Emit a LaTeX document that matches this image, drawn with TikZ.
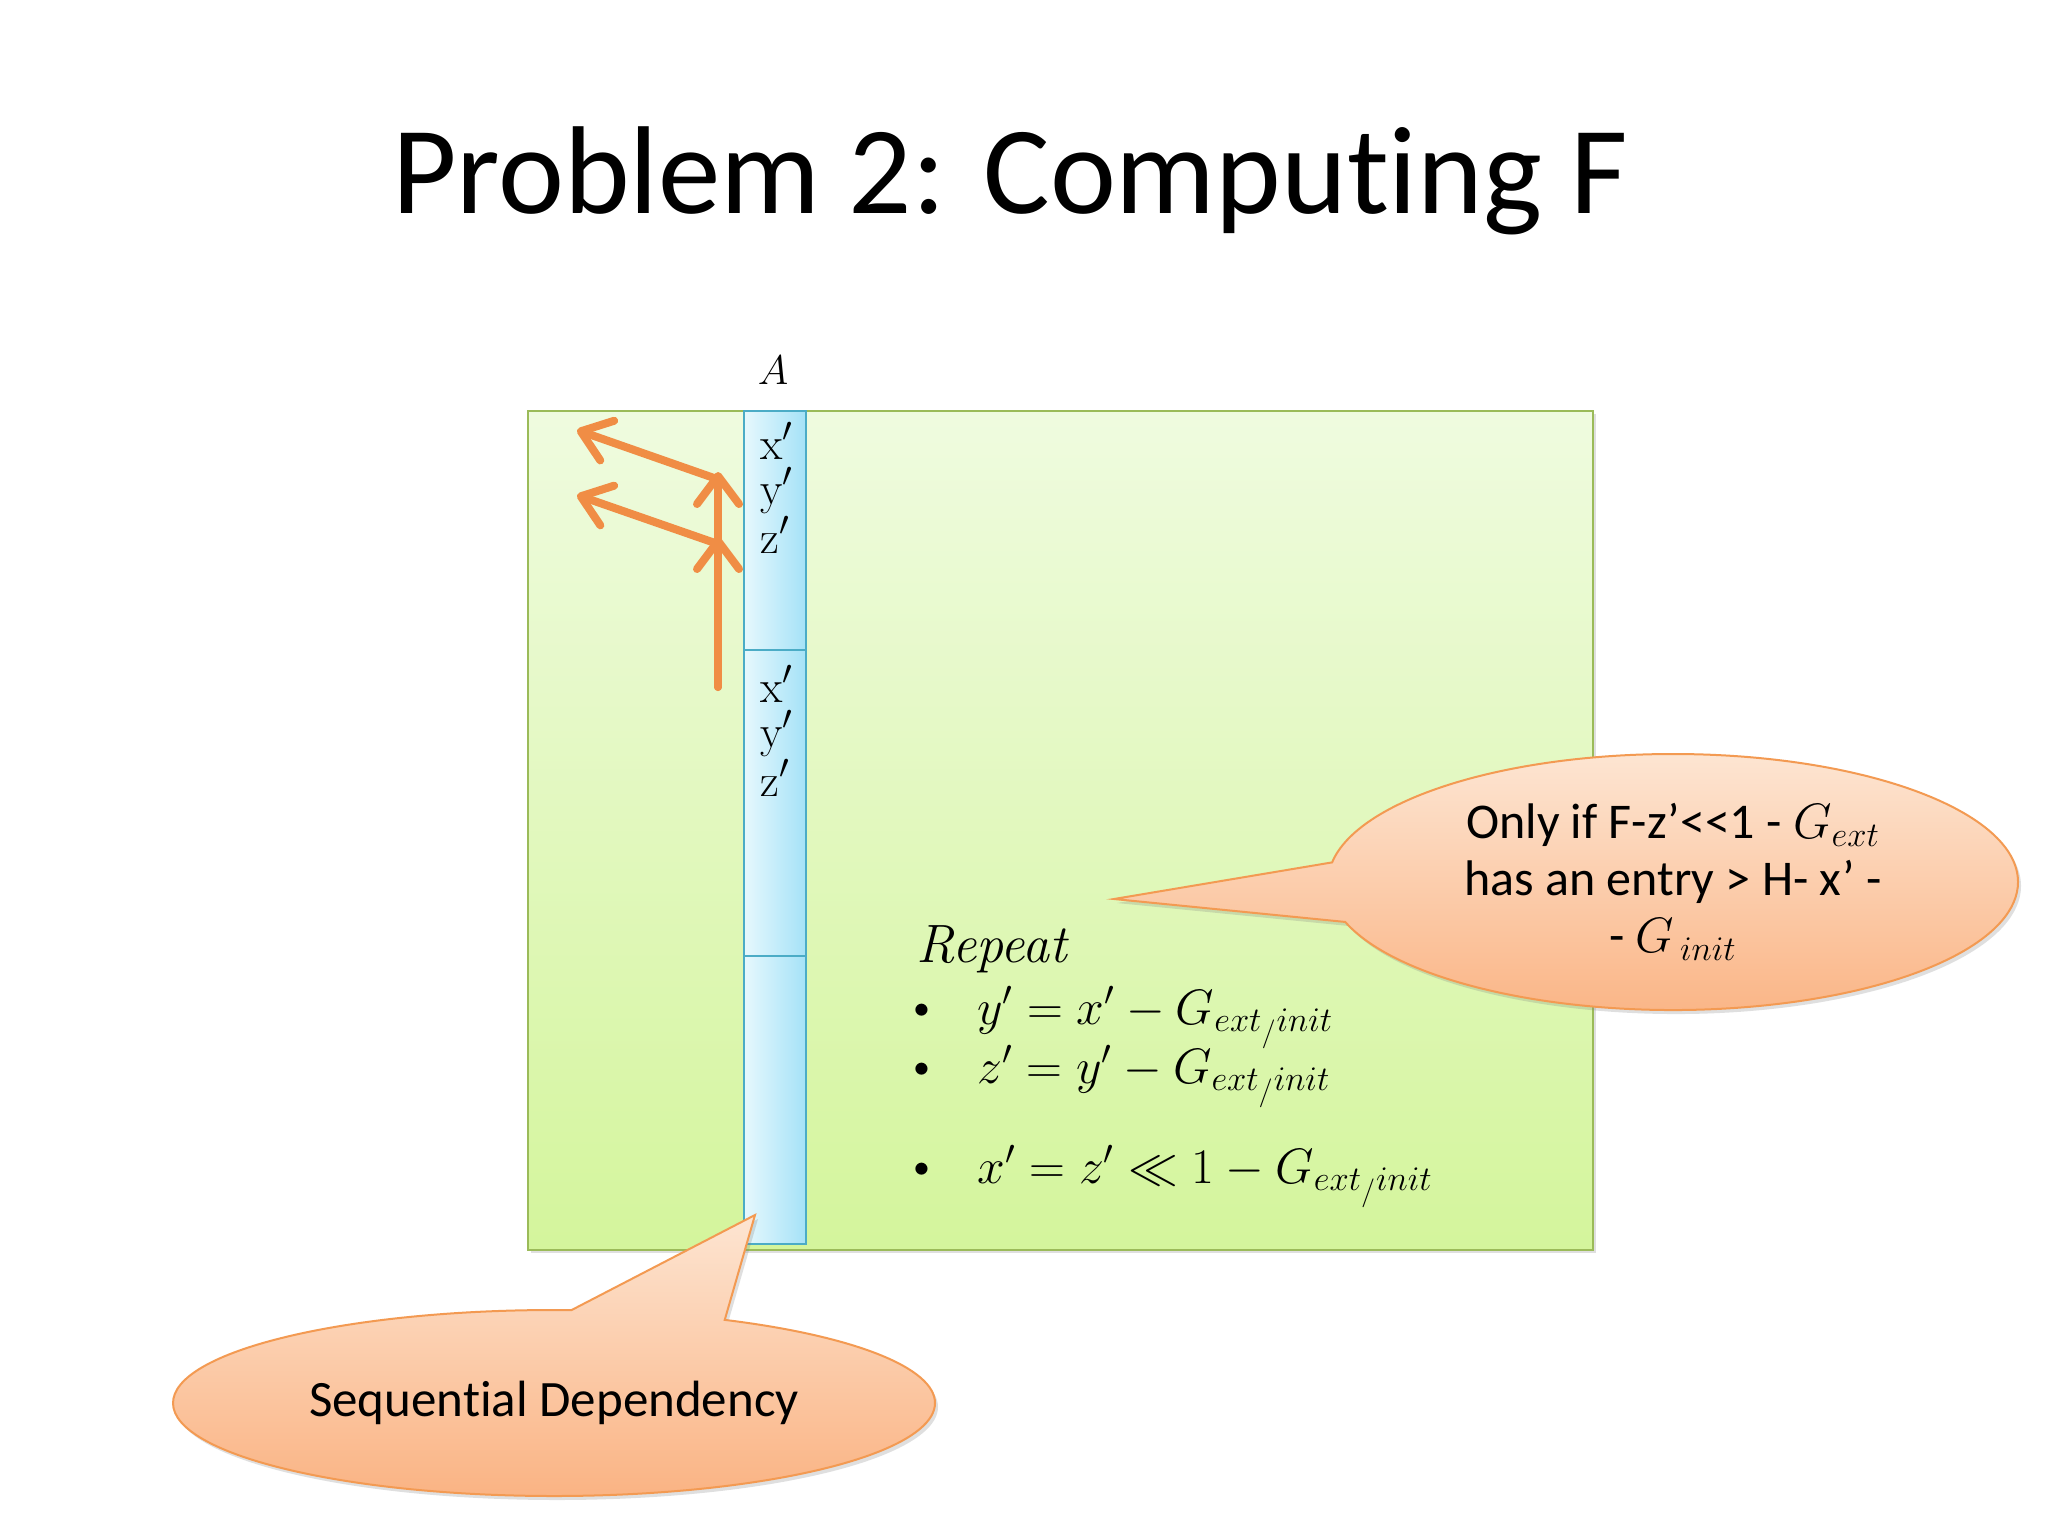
\documentclass[tikz,border=0pt]{standalone}
\usepackage{fontspec}
\newfontfamily\calib[Ligatures=NoCommon]{Carlito}
\usetikzlibrary{shapes.callouts,shadows,arrows.meta}
\definecolor{gtop}{HTML}{EFFBDF}
\definecolor{gbot}{HTML}{D4F59C}
\definecolor{gborder}{HTML}{9BBB59}
\definecolor{cleft}{HTML}{E6F8FD}
\definecolor{cright}{HTML}{A5E2F7}
\definecolor{cborder}{HTML}{4BACC6}
\definecolor{otop}{HTML}{FDE5D2}
\definecolor{obot}{HTML}{FAB383}
\definecolor{oborder}{HTML}{F39A52}
\definecolor{oarrow}{HTML}{F08D45}
\begin{document}
\begin{tikzpicture}[x=0.5pt,y=-0.5pt,
  panel/.style={draw=gborder, line width=1.2pt, top color=gtop, bottom color=gbot,
    inner sep=0pt, anchor=north west,
    drop shadow={shadow xshift=1.5pt,shadow yshift=-1.5pt,opacity=0.25}},
  colseg/.style={draw=cborder, line width=1pt, left color=cleft, right color=cright,
    inner sep=0pt, anchor=north west, minimum width=31pt},
  bubble/.style={ellipse callout, draw=oborder, line width=1pt, top color=otop, bottom color=obot,
    inner sep=0pt, font=\calib\fontsize{25}{28.5}\selectfont, align=center,
    drop shadow={shadow xshift=1.5pt,shadow yshift=-2pt,opacity=0.25}},
  flow/.style={draw=oarrow, line width=4pt, line cap=round,
    -{Straight Barb[length=14pt,width=21pt,round]}},
  colnum/.style={font=\fontsize{23}{22.5}\selectfont, align=left, inner sep=0pt},
  mathtxt/.style={font=\fontsize{27}{30}\selectfont, inner sep=0pt, anchor=base west},
  bul/.style={font=\fontsize{27}{30}\selectfont, inner sep=0pt, anchor=base}
]
\useasboundingbox (0,0) rectangle (2048,1536);
\fill[white] (0,0) rectangle (2048,1536);

% title
\node[font=\calib\fontsize{62.5}{70}\selectfont, anchor=base, inner sep=0pt] (title) at (1010,213) {Problem 2: Computing F};

% panel
\node[panel, minimum width=532.5pt, minimum height=419.5pt] (panel) at (527,410) {};

% column A
\node[colseg, minimum height=119.5pt] (seg1) at (743,410) {};
\node[colseg, minimum height=153pt] (seg2) at (743,649) {};
\node[colseg, minimum height=144pt] (seg3) at (743,955) {};
\node[font=\fontsize{21}{21}\selectfont, inner sep=0pt] (alabel) at (773,370) {$A$};
\node[colnum] (vals1) at (777,488) {x$'$\\y$'$\\z$'$};
\node[colnum] (vals2) at (777,731) {x$'$\\y$'$\\z$'$};

% arrows
\coordinate (vbot) at (718,687);
\coordinate (vmid) at (718,537);
\coordinate (vtop) at (718,472);
\coordinate (dstartA) at (714,478);
\coordinate (dstartB) at (715,543);
\coordinate (ltop) at (577,430);
\coordinate (lmid) at (577,495);
\draw[flow] (vbot) -- (vmid);
\draw[flow] (vbot) -- (vtop);
\draw[flow] (dstartA) -- (ltop);
\draw[flow] (dstartB) -- (lmid);

% repeat block
\node[mathtxt] (rep) at (916,962) {\itshape Repeat};
\node[bul] (b1) at (922,1024) {\textbullet};
\node[bul] (b2) at (922,1083) {\textbullet};
\node[bul] (b3) at (922,1183) {\textbullet};
\node[mathtxt] (eq1) at (977,1024) {$y' = x' - G_{ext_{/}init}$};
\node[mathtxt] (eq2) at (977,1083) {$z' = y' - G_{ext_{/}init}$};
\node[mathtxt] (eq3) at (977,1183) {$x' = z' \ll 1 - G_{ext_{/}init}$};

% callouts
\node[bubble, minimum width=345pt, minimum height=128pt,
  callout absolute pointer={(1114,899)}, callout pointer arc=27] (cond) at (1673,882)
  {Only if F-z’<<1 - $G_{ext}$\\has an entry > H- x’ -\\- $G_{\,init}$};
\node[bubble, minimum width=381pt, minimum height=93pt,
  font=\calib\fontsize{25.5}{28.5}\selectfont,
  callout absolute pointer={(755,1215)}, callout pointer arc=24] (seq) at (554,1403)
  {Sequential Dependency};
\end{tikzpicture}
\end{document}
